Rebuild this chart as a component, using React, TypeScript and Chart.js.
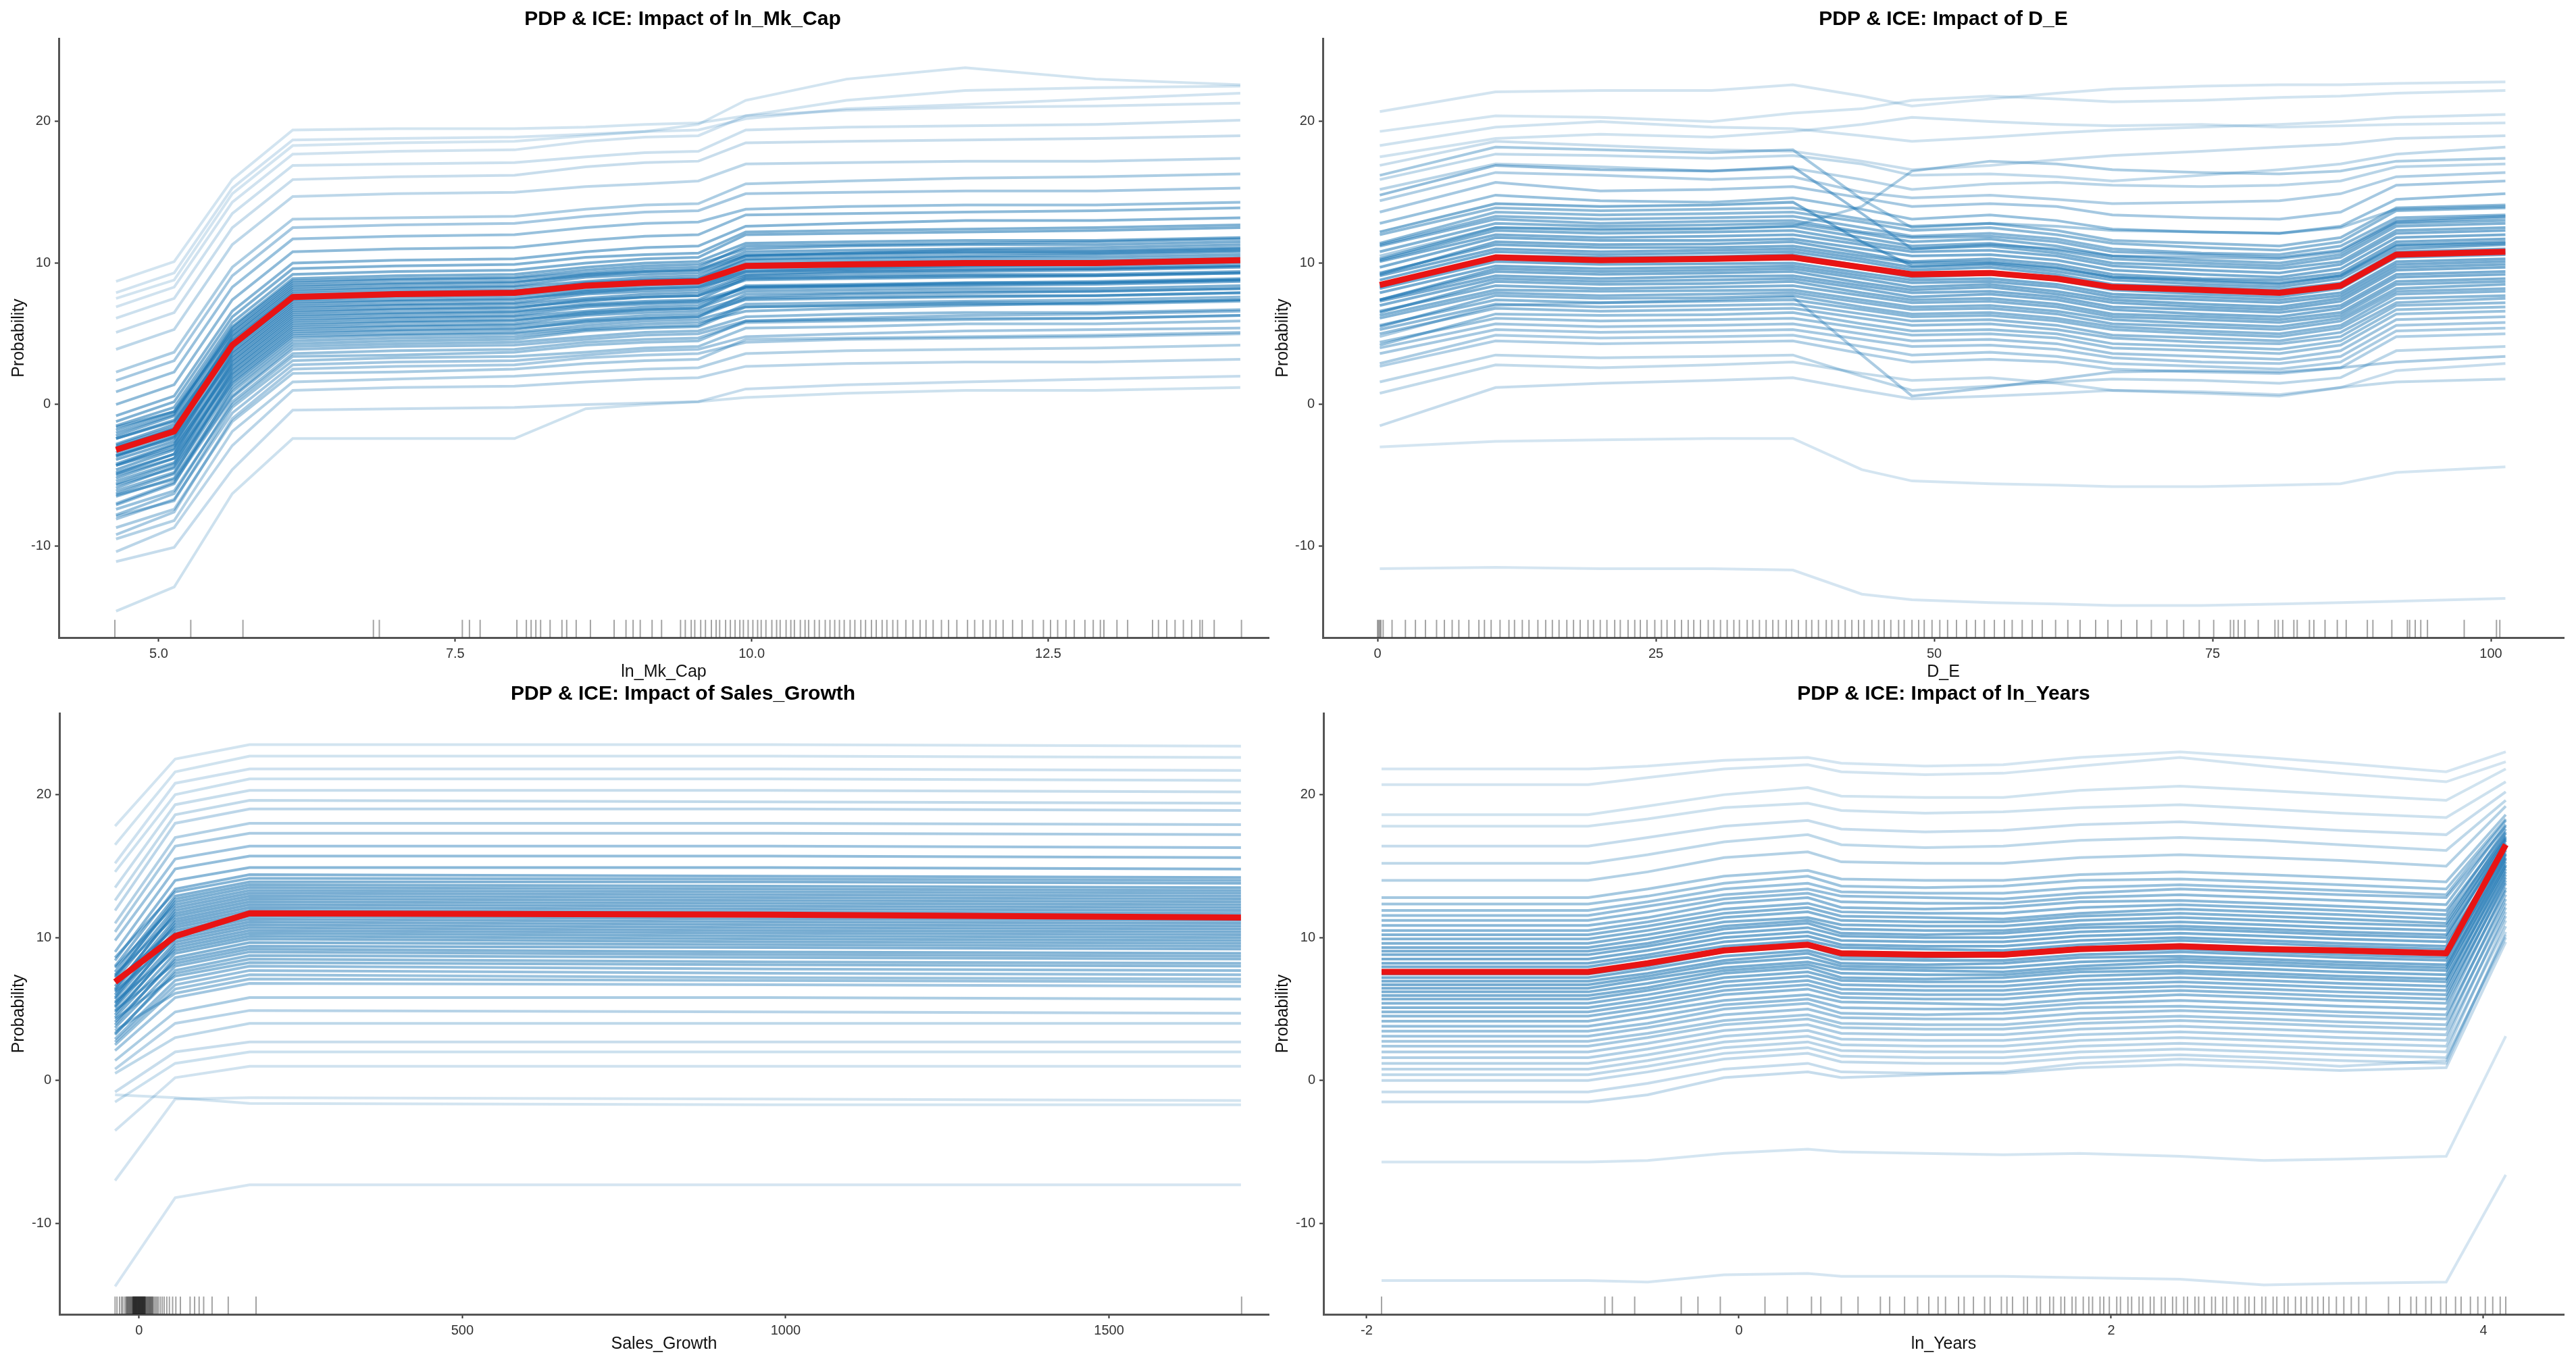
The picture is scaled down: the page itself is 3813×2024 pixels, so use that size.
import React, { useEffect, useRef } from "react";
import { Chart, registerables } from "chart.js";

Chart.register(...registerables);

const FONT = "'Liberation Sans', Arial, Helvetica, sans-serif";
const PDP_COLOR = "rgb(232, 20, 20)";
const RUG_COLOR = "rgba(0, 0, 0, 0.36)";

const Y_TICKS = [-10, 0, 10, 20];
const Y_TICK_LABELS = ["-10", "0", "10", "20"];
const Y_TITLE = "Probability";

// ---------------- Panel 1: ln_Mk_Cap ----------------
const MKCAP_X = [4.64, 5.13, 5.62, 6.13, 7.0, 8.0, 8.6, 9.1, 9.55, 9.95, 10.8, 11.8, 12.9, 14.12];
const MKCAP_PDP = [-3.2, -1.9, 4.2, 7.6, 7.8, 7.9, 8.4, 8.6, 8.7, 9.8, 9.9, 10.0, 10.0, 10.2];
const MKCAP_ICE = [
  [-14.6, -12.9, -6.3, -2.4, -2.4, -2.4, -0.3, 0.0, 0.2, 0.5, 0.8, 1.0, 1.0, 1.2],
  [-11.1, -10.1, -4.6, -0.4, -0.3, -0.2, 0.0, 0.1, 0.2, 1.1, 1.4, 1.6, 1.8, 2.0],
  [-10.4, -8.7, -2.9, 1.0, 1.2, 1.3, 1.6, 1.8, 1.9, 2.7, 2.9, 3.0, 3.0, 3.2],
  [-9.5, -8.2, -1.9, 1.6, 1.8, 2.0, 2.3, 2.5, 2.6, 3.6, 3.8, 3.9, 4.0, 4.2],
  [-8.7, -7.4, -1.2, 2.2, 2.3, 2.5, 2.9, 3.1, 3.2, 4.6, 4.7, 4.8, 4.9, 5.1],
  [-8.1, -6.7, -0.6, 2.8, 3.0, 3.1, 3.5, 3.8, 3.9, 4.8, 5.0, 5.2, 5.3, 5.4],
  [-7.4, -6.1, 0.0, 3.4, 3.5, 3.7, 4.2, 4.4, 4.5, 5.9, 6.0, 6.1, 6.1, 6.3],
  [-7.0, -5.5, 0.5, 3.9, 4.1, 4.2, 4.6, 4.9, 5.0, 5.9, 6.1, 6.3, 6.4, 6.6],
  [-6.5, -5.2, 0.9, 4.3, 4.5, 4.6, 5.2, 5.4, 5.5, 6.9, 7.0, 7.1, 7.1, 7.3],
  [-6.1, -4.8, 1.3, 4.7, 4.9, 5.0, 5.4, 5.7, 5.8, 6.6, 6.8, 7.0, 7.2, 7.4],
  [-5.9, -4.4, 1.6, 5.0, 5.2, 5.3, 5.9, 6.1, 6.2, 7.5, 7.6, 7.7, 7.7, 7.9],
  [-5.4, -4.1, 1.9, 5.3, 5.5, 5.6, 6.0, 6.3, 6.4, 7.4, 7.5, 7.6, 7.7, 7.9],
  [-5.2, -3.8, 2.2, 5.6, 5.8, 5.9, 6.5, 6.7, 6.8, 8.0, 8.1, 8.2, 8.2, 8.4],
  [-4.8, -3.5, 2.5, 5.9, 6.1, 6.2, 6.6, 6.9, 7.0, 8.3, 8.4, 8.6, 8.6, 8.8],
  [-4.6, -3.2, 2.8, 6.2, 6.4, 6.5, 7.0, 7.2, 7.3, 8.3, 8.4, 8.5, 8.6, 8.8],
  [-4.3, -2.9, 3.1, 6.5, 6.7, 6.8, 7.4, 7.6, 7.7, 9.0, 9.1, 9.2, 9.2, 9.4],
  [-3.9, -2.6, 3.4, 6.8, 7.0, 7.1, 7.5, 7.8, 7.9, 9.1, 9.3, 9.4, 9.5, 9.7],
  [-3.7, -2.3, 3.7, 7.1, 7.3, 7.4, 8.0, 8.2, 8.3, 9.6, 9.7, 9.8, 9.8, 10.0],
  [-3.4, -2.0, 4.0, 7.4, 7.6, 7.7, 8.1, 8.4, 8.5, 9.4, 9.6, 9.8, 9.9, 10.1],
  [-3.1, -1.7, 4.3, 7.7, 7.9, 8.0, 8.6, 8.8, 8.9, 10.2, 10.3, 10.4, 10.4, 10.6],
  [-2.8, -1.4, 4.6, 8.0, 8.2, 8.3, 8.7, 9.0, 9.1, 10.5, 10.7, 10.9, 10.9, 11.1],
  [-2.4, -1.1, 4.9, 8.3, 8.5, 8.6, 9.2, 9.4, 9.5, 10.6, 10.7, 10.8, 10.8, 11.0],
  [-2.2, -0.8, 5.2, 8.6, 8.8, 8.9, 9.3, 9.6, 9.7, 11.2, 11.3, 11.4, 11.5, 11.7],
  [-1.8, -0.5, 5.5, 8.9, 9.1, 9.2, 9.7, 10.0, 10.1, 11.4, 11.5, 11.6, 11.6, 11.8],
  [-1.5, -0.2, 5.8, 9.2, 9.4, 9.5, 10.0, 10.3, 10.4, 12.0, 12.1, 12.2, 12.3, 12.5],
  [-0.8, 0.6, 6.6, 10.0, 10.2, 10.3, 10.8, 11.1, 11.2, 12.6, 12.8, 13.0, 13.0, 13.2],
  [0.0, 1.4, 7.4, 10.8, 11.0, 11.1, 11.6, 11.9, 12.0, 13.4, 13.5, 13.6, 13.7, 13.9],
  [0.9, 2.3, 8.3, 11.7, 11.9, 12.0, 12.5, 12.8, 12.9, 13.8, 14.0, 14.1, 14.1, 14.3],
  [1.7, 3.1, 9.1, 12.5, 12.7, 12.8, 13.3, 13.6, 13.7, 14.9, 15.0, 15.1, 15.1, 15.3],
  [2.3, 3.7, 9.7, 13.1, 13.2, 13.3, 13.8, 14.1, 14.2, 15.6, 15.8, 16.0, 16.1, 16.3],
  [3.9, 5.3, 11.3, 14.7, 14.9, 15.0, 15.4, 15.6, 15.8, 17.0, 17.1, 17.2, 17.2, 17.4],
  [5.1, 6.5, 12.5, 15.9, 16.1, 16.2, 16.8, 17.1, 17.2, 18.5, 18.6, 18.7, 18.8, 19.0],
  [6.1, 7.5, 13.5, 16.9, 17.0, 17.1, 17.5, 17.8, 17.9, 19.4, 19.6, 19.7, 19.8, 20.1],
  [6.9, 8.3, 14.3, 17.7, 17.9, 18.0, 18.6, 18.9, 19.0, 20.4, 20.8, 21.0, 21.1, 21.3],
  [7.9, 9.3, 15.3, 18.7, 18.8, 18.9, 19.1, 19.3, 19.4, 20.2, 20.9, 21.2, 21.6, 22.0],
  [8.7, 10.1, 15.9, 19.4, 19.5, 19.5, 19.6, 19.8, 19.9, 20.4, 21.5, 22.2, 22.4, 22.5],
  [7.5, 8.8, 14.9, 18.3, 18.5, 18.6, 19.0, 19.3, 19.8, 21.5, 23.0, 23.8, 23.0, 22.6],
  [-9.2, -7.6, -1.0, 2.5, 2.7, 2.8, 3.3, 3.5, 3.6, 4.4, 4.6, 4.7, 4.8, 5.0],
  [-7.9, -6.8, -0.2, 3.1, 3.3, 3.4, 3.7, 4.0, 4.1, 5.4, 5.5, 5.7, 5.7, 5.9],
  [-7.8, -6.3, 0.2, 3.6, 3.8, 3.9, 4.4, 4.6, 4.7, 5.8, 5.9, 6.0, 6.1, 6.3],
  [-6.4, -5.3, 0.6, 4.1, 4.3, 4.4, 4.8, 5.1, 5.2, 6.2, 6.4, 6.5, 6.5, 6.7],
  [-7.1, -5.6, 1.1, 4.5, 4.7, 4.8, 5.3, 5.5, 5.6, 7.1, 7.2, 7.3, 7.4, 7.6],
  [-5.7, -4.5, 1.5, 4.85, 5.0, 5.1, 5.6, 5.9, 6.0, 6.9, 7.0, 7.2, 7.2, 7.4],
  [-6.3, -4.9, 1.8, 5.15, 5.3, 5.4, 5.8, 6.1, 6.2, 7.8, 7.9, 8.0, 8.0, 8.2],
  [-5.0, -3.8, 2.1, 5.45, 5.6, 5.7, 6.3, 6.5, 6.6, 7.6, 7.8, 7.9, 8.0, 8.2],
  [-5.6, -4.2, 2.4, 5.75, 5.9, 6.0, 6.4, 6.7, 6.8, 8.4, 8.5, 8.6, 8.7, 8.9],
  [-4.3, -3.1, 2.7, 6.05, 6.2, 6.3, 6.9, 7.1, 7.2, 8.2, 8.3, 8.4, 8.5, 8.7],
  [-4.9, -3.5, 3.0, 6.35, 6.5, 6.6, 7.1, 7.3, 7.4, 8.9, 9.0, 9.1, 9.1, 9.3],
  [-3.6, -2.4, 3.3, 6.65, 6.8, 6.9, 7.3, 7.6, 7.7, 8.8, 8.9, 9.0, 9.1, 9.3],
  [-4.2, -2.8, 3.6, 6.95, 7.1, 7.2, 7.8, 8.0, 8.1, 9.4, 9.5, 9.6, 9.6, 9.8],
  [-3.0, -1.8, 3.9, 7.25, 7.4, 7.5, 7.9, 8.2, 8.3, 9.2, 9.4, 9.5, 9.6, 9.8],
  [-3.6, -2.2, 4.2, 7.55, 7.7, 7.8, 8.4, 8.6, 8.7, 10.0, 10.1, 10.2, 10.2, 10.4],
  [-2.4, -1.2, 4.5, 7.85, 8.0, 8.1, 8.5, 8.8, 8.9, 10.3, 10.4, 10.5, 10.6, 10.8],
  [-2.9, -1.6, 4.8, 8.15, 8.3, 8.4, 9.0, 9.2, 9.3, 10.5, 10.6, 10.7, 10.7, 10.9],
  [-1.6, -0.5, 5.1, 8.45, 8.6, 8.7, 9.1, 9.4, 9.5, 10.8, 10.9, 11.0, 11.1, 11.3],
  [-2.0, -0.7, 5.4, 8.75, 8.9, 9.0, 9.5, 9.8, 9.9, 11.0, 11.2, 11.3, 11.3, 11.5],
  [-1.2, 0.2, 6.2, 9.6, 9.8, 9.9, 10.4, 10.6, 10.7, 12.2, 12.3, 12.4, 12.5, 12.7],
];
const MKCAP_RUG = [
  4.63, 5.27, 5.71, 6.81, 6.86, 7.56, 7.62, 7.71, 8.02, 8.1, 8.14, 8.18, 8.22, 8.3, 8.4, 8.44,
  8.52, 8.64, 8.84, 8.94, 9.0, 9.06, 9.16, 9.24, 9.4, 9.44, 9.49, 9.52, 9.57, 9.61, 9.66, 9.7,
  9.73, 9.78, 9.82, 9.86, 9.9, 9.93, 9.97, 10.01, 10.05, 10.08, 10.12, 10.17, 10.21, 10.24,
  10.29, 10.33, 10.36, 10.41, 10.45, 10.48, 10.53, 10.57, 10.62, 10.66, 10.7, 10.74, 10.78,
  10.83, 10.87, 10.92, 10.96, 11.01, 11.05, 11.1, 11.14, 11.19, 11.23, 11.3, 11.36, 11.42,
  11.47, 11.53, 11.6, 11.66, 11.73, 11.82, 11.88, 11.95, 12.01, 12.06, 12.12, 12.2, 12.28,
  12.37, 12.46, 12.52, 12.58, 12.65, 12.72, 12.81, 12.88, 12.94, 12.97, 13.08, 13.17, 13.38,
  13.43, 13.5, 13.57, 13.64, 13.71, 13.78, 13.8, 13.9, 14.13,
];
const MKCAP_TICKS = [5, 7.5, 10, 12.5];
const MKCAP_TICK_LABELS = ["5.0", "7.5", "10.0", "12.5"];

// ---------------- Panel 2: D_E ----------------
const DE_X = [0.2, 10.6, 20, 30, 37.3, 43.5, 48, 55, 61, 66, 74, 81, 86.5, 91.5, 101.3];
const DE_PDP = [8.45, 10.4, 10.2, 10.3, 10.4, 9.7, 9.2, 9.3, 8.9, 8.3, 8.1, 7.9, 8.4, 10.6, 10.8];
const DE_ICE = [
  [20.7, 22.1, 22.2, 22.2, 22.6, 21.8, 21.1, 21.6, 22.0, 22.3, 22.5, 22.6, 22.6, 22.7, 22.8],
  [19.3, 20.4, 20.3, 20.0, 20.6, 20.9, 21.5, 21.8, 21.6, 21.4, 21.5, 21.7, 21.8, 22.0, 22.2],
  [18.3, 19.6, 20.0, 19.6, 19.5, 19.0, 18.6, 18.9, 19.2, 19.4, 19.6, 19.8, 20.0, 20.3, 20.5],
  [17.5, 18.8, 19.1, 18.9, 19.3, 19.8, 20.3, 20.0, 19.8, 19.7, 19.8, 19.6, 19.7, 19.8, 19.9],
  [16.9, 18.6, 18.3, 18.0, 17.9, 17.2, 16.6, 16.9, 17.3, 17.6, 17.9, 18.2, 18.4, 18.8, 19.0],
  [15.9, 17.7, 17.6, 17.4, 17.6, 17.0, 16.2, 16.3, 16.1, 15.8, 16.2, 16.6, 17.0, 17.7, 18.2],
  [15.2, 17.0, 16.8, 16.5, 16.7, 15.9, 15.2, 15.6, 15.7, 15.5, 15.4, 15.5, 15.8, 16.8, 17.0],
  [14.4, 16.4, 16.2, 15.9, 16.1, 15.0, 14.6, 14.8, 14.5, 14.2, 14.3, 14.4, 14.9, 16.1, 16.4],
  [13.6, 15.7, 15.1, 15.2, 15.4, 14.6, 14.0, 14.2, 14.0, 13.4, 13.2, 13.1, 13.6, 15.5, 15.8],
  [12.8, 14.8, 14.4, 14.3, 14.6, 13.8, 13.1, 13.4, 13.0, 12.4, 12.2, 12.1, 12.6, 14.5, 14.9],
  [16.2, 18.2, 18.0, 17.8, 18.0, 14.5, 12.5, 12.8, 12.6, 12.3, 12.2, 12.1, 12.5, 13.8, 14.0],
  [14.8, 16.9, 16.6, 16.5, 16.8, 13.5, 11.0, 11.3, 11.0, 10.5, 10.4, 10.3, 10.8, 12.9, 13.2],
  [10.5, 12.5, 12.3, 12.4, 12.6, 14.0, 16.5, 17.2, 17.0, 16.6, 16.4, 16.3, 16.5, 17.2, 17.4],
  [12.0, 13.9, 13.7, 13.8, 13.9, 13.1, 12.6, 12.8, 12.3, 11.6, 11.4, 11.2, 11.8, 13.9, 14.1],
  [11.3, 13.3, 13.1, 13.2, 13.3, 12.5, 11.9, 12.1, 11.7, 11.0, 10.7, 10.6, 11.2, 13.2, 13.4],
  [10.8, 12.8, 12.6, 12.7, 12.8, 12.1, 11.5, 11.7, 11.2, 10.5, 10.2, 10.0, 10.6, 12.8, 13.0],
  [10.2, 12.3, 12.1, 12.2, 12.3, 11.5, 11.0, 11.2, 10.7, 10.0, 9.8, 9.6, 10.1, 12.3, 12.5],
  [9.7, 11.8, 11.6, 11.6, 11.7, 11.0, 10.5, 10.6, 10.2, 9.5, 9.2, 9.0, 9.6, 11.8, 12.0],
  [9.3, 11.3, 11.1, 11.1, 11.2, 10.5, 10.0, 10.1, 9.7, 9.0, 8.7, 8.5, 9.1, 11.3, 11.5],
  [8.8, 10.8, 10.6, 10.7, 10.8, 10.1, 9.5, 9.7, 9.2, 8.5, 8.3, 8.1, 8.6, 10.8, 11.0],
  [8.4, 10.3, 10.1, 10.2, 10.3, 9.6, 9.0, 9.2, 8.8, 8.1, 7.8, 7.6, 8.2, 10.4, 10.6],
  [7.9, 9.8, 9.6, 9.7, 9.8, 9.1, 8.6, 8.7, 8.3, 7.6, 7.4, 7.2, 7.7, 9.9, 10.1],
  [7.4, 9.4, 9.2, 9.3, 9.4, 8.6, 8.1, 8.3, 7.8, 7.2, 6.9, 6.7, 7.3, 9.5, 9.7],
  [7.0, 8.9, 8.7, 8.8, 8.9, 8.2, 7.6, 7.8, 7.4, 6.7, 6.4, 6.2, 6.8, 9.0, 9.2],
  [6.6, 8.4, 8.2, 8.3, 8.4, 7.7, 7.2, 7.3, 6.9, 6.2, 6.0, 5.8, 6.3, 8.5, 8.7],
  [6.1, 7.9, 7.7, 7.8, 7.9, 7.2, 6.7, 6.8, 6.4, 5.7, 5.5, 5.3, 5.9, 8.0, 8.2],
  [5.6, 7.4, 7.2, 7.3, 7.4, 6.7, 6.2, 6.3, 5.9, 5.3, 5.0, 4.8, 5.4, 7.5, 7.7],
  [5.0, 6.8, 6.6, 6.7, 6.8, 6.1, 5.6, 5.7, 5.3, 4.7, 4.4, 4.3, 4.8, 7.0, 7.2],
  [4.4, 6.1, 5.9, 6.0, 6.1, 5.4, 4.9, 5.0, 4.7, 4.0, 3.8, 3.6, 4.2, 6.4, 6.6],
  [3.6, 5.3, 5.1, 5.2, 5.3, 4.6, 4.1, 4.2, 3.9, 3.3, 3.0, 2.9, 3.4, 5.6, 5.8],
  [2.7, 4.5, 4.3, 4.4, 4.5, 3.6, 3.0, 3.2, 3.0, 2.5, 2.3, 2.2, 2.6, 4.8, 5.0],
  [1.6, 3.5, 3.3, 3.4, 3.5, 2.0, 1.0, 1.3, 1.6, 1.8, 1.7, 1.5, 1.9, 3.8, 4.1],
  [4.8, 7.0, 7.2, 7.4, 7.6, 3.5, 0.6, 1.2, 1.8, 2.3, 2.4, 2.3, 2.6, 3.0, 3.4],
  [0.8, 2.8, 2.6, 2.8, 3.0, 2.2, 1.7, 1.9, 1.5, 1.0, 0.8, 0.6, 1.2, 1.6, 1.8],
  [-1.5, 1.2, 1.5, 1.7, 1.9, 1.0, 0.4, 0.6, 0.8, 1.0, 0.9, 0.7, 1.2, 2.4, 2.9],
  [-3.0, -2.6, -2.5, -2.4, -2.4, -4.6, -5.4, -5.6, -5.7, -5.8, -5.8, -5.7, -5.6, -4.8, -4.4],
  [-11.6, -11.5, -11.6, -11.6, -11.7, -13.4, -13.8, -14.0, -14.1, -14.2, -14.2, -14.1, -14.0, -13.9, -13.7],
  [11.4, 13.6, 13.4, 13.5, 13.6, 12.9, 12.3, 12.5, 12.0, 11.4, 11.1, 10.9, 11.5, 13.7, 13.9],
  [11.2, 13.1, 12.8, 12.95, 13.0, 12.2, 11.8, 11.9, 11.5, 10.8, 10.6, 10.4, 10.9, 13.0, 13.3],
  [10.3, 12.5, 12.4, 12.45, 12.6, 11.8, 11.2, 11.4, 10.9, 10.3, 10.0, 9.8, 10.4, 12.6, 12.8],
  [10.1, 12.0, 11.8, 11.9, 12.0, 11.3, 10.8, 10.9, 10.5, 9.8, 9.5, 9.3, 9.9, 12.1, 12.3],
  [9.2, 11.5, 11.3, 11.35, 11.5, 10.7, 10.1, 10.3, 9.9, 9.2, 8.9, 8.8, 9.3, 11.5, 11.7],
  [9.1, 11.0, 10.8, 10.9, 11.0, 10.3, 9.7, 9.9, 9.4, 8.8, 8.5, 8.3, 8.9, 11.0, 11.3],
  [8.3, 10.5, 10.4, 10.45, 10.6, 9.8, 9.3, 9.4, 9.0, 8.3, 8.0, 7.8, 8.4, 10.6, 10.8],
  [8.2, 10.1, 9.9, 9.95, 10.0, 9.3, 8.8, 8.9, 8.5, 7.8, 7.6, 7.4, 7.9, 10.1, 10.3],
  [7.4, 9.6, 9.4, 9.5, 9.6, 8.9, 8.3, 8.5, 8.0, 7.4, 7.1, 6.9, 7.5, 9.7, 9.9],
  [7.3, 9.1, 8.9, 9.05, 9.1, 8.4, 7.9, 8.0, 7.6, 6.9, 6.7, 6.5, 7.0, 9.2, 9.4],
  [6.5, 8.7, 8.5, 8.55, 8.7, 7.9, 7.4, 7.5, 7.1, 6.4, 6.2, 6.0, 6.5, 8.7, 8.9],
  [6.3, 8.1, 8.0, 8.05, 8.1, 7.4, 6.9, 7.0, 6.6, 6.0, 5.7, 5.5, 6.1, 8.2, 8.5],
  [5.5, 7.7, 7.5, 7.55, 7.7, 6.9, 6.4, 6.5, 6.1, 5.5, 5.2, 5.0, 5.6, 7.8, 8.0],
  [5.3, 7.1, 6.9, 7.0, 7.1, 6.4, 5.9, 6.0, 5.6, 4.9, 4.7, 4.5, 5.1, 7.2, 7.5],
  [4.2, 6.4, 6.3, 6.35, 6.5, 5.7, 5.2, 5.3, 5.0, 4.3, 4.1, 3.9, 4.5, 6.7, 6.9],
  [4.0, 5.7, 5.5, 5.6, 5.7, 5.0, 4.5, 4.6, 4.3, 3.6, 3.4, 3.2, 3.8, 6.0, 6.2],
  [2.9, 4.9, 4.7, 4.8, 4.9, 4.1, 3.5, 3.7, 3.4, 2.9, 2.7, 2.5, 3.0, 5.2, 5.4],
  [12.2, 14.2, 14.0, 14.1, 14.3, 11.5, 9.8, 10.0, 9.6, 9.0, 8.8, 8.6, 9.1, 11.2, 11.4],
];
const DE_RUG = [
  0, 0.1, 0.2, 0.3, 0.5, 1.3, 2.5, 3.4, 4.3, 5.3, 6.0, 6.7, 7.3, 8.2, 9.1, 9.6, 10.2, 11.0, 11.8,
  12.3, 13.0, 13.6, 14.4, 15.1, 15.7, 16.3, 17.0, 17.6, 18.2, 18.9, 19.4, 20.0, 20.6, 21.3, 21.8,
  22.5, 23.1, 23.6, 24.2, 24.9, 25.5, 26.0, 26.7, 27.3, 27.9, 28.4, 29.0, 29.7, 30.2, 30.8, 31.4,
  32.0, 32.5, 33.2, 33.7, 34.3, 34.9, 35.5, 36.0, 36.7, 37.2, 37.8, 38.5, 39.0, 39.6, 40.3, 40.8,
  41.4, 42.0, 42.6, 43.2, 43.7, 44.4, 45.0, 45.5, 46.1, 46.8, 47.3, 48.0, 48.6, 49.1, 49.8, 50.5,
  51.2, 52.0, 52.9, 53.7, 54.5, 55.4, 56.3, 57.0, 57.9, 58.8, 59.7, 60.9, 62.0, 63.1, 64.5, 65.6,
  66.8, 68.2, 69.5, 70.9, 72.4, 73.8, 75.1, 76.6, 76.9, 77.3, 77.9, 79.1, 80.6, 80.9, 81.3, 82.3,
  82.6, 83.7, 84.1, 85.1, 86.2, 87.0, 88.9, 89.4, 91.1, 92.5, 92.7, 93.2, 93.7, 94.3, 97.6, 100.5,
  100.8,
];
const DE_TICKS = [0, 25, 50, 75, 100];
const DE_TICK_LABELS = ["0", "25", "50", "75", "100"];

// ---------------- Panel 3: Sales_Growth ----------------
const SG_X = [-37, 56, 171, 975, 1704];
const SG_PDP = [6.9, 10.1, 11.7, 11.6, 11.4];
const SG_ICE = [
  [17.8, 22.5, 23.5, 23.5, 23.4],
  [16.5, 21.6, 22.7, 22.7, 22.6],
  [15.2, 20.8, 21.8, 21.8, 21.7],
  [14.6, 20.0, 21.1, 21.1, 21.0],
  [13.5, 19.3, 20.3, 20.3, 20.2],
  [12.6, 18.6, 19.6, 19.5, 19.4],
  [11.9, 18.0, 19.0, 19.0, 18.9],
  [11.0, 17.0, 18.0, 18.0, 17.9],
  [10.4, 16.4, 17.3, 17.3, 17.2],
  [9.8, 15.5, 16.4, 16.4, 16.3],
  [9.0, 14.8, 15.7, 15.7, 15.6],
  [8.4, 14.0, 14.9, 14.9, 14.8],
  [8.0, 13.4, 14.4, 14.3, 14.2],
  [7.6, 12.9, 13.9, 13.9, 13.8],
  [7.3, 12.5, 13.5, 13.4, 13.3],
  [7.0, 12.1, 13.1, 13.0, 12.9],
  [6.6, 11.7, 12.7, 12.6, 12.5],
  [6.3, 11.3, 12.3, 12.2, 12.1],
  [6.0, 10.9, 11.9, 11.8, 11.7],
  [5.7, 10.5, 11.5, 11.3, 11.2],
  [5.4, 10.1, 11.1, 10.9, 10.8],
  [5.1, 9.7, 10.7, 10.5, 10.4],
  [4.8, 9.3, 10.3, 10.1, 10.0],
  [4.4, 8.9, 9.9, 9.7, 9.6],
  [4.1, 8.4, 9.4, 9.3, 9.2],
  [3.7, 8.0, 9.0, 8.8, 8.7],
  [3.3, 7.5, 8.5, 8.3, 8.2],
  [2.9, 7.0, 8.0, 7.8, 7.7],
  [2.5, 6.4, 7.4, 7.2, 7.1],
  [2.1, 5.8, 6.8, 6.7, 6.6],
  [1.4, 4.8, 5.8, 5.8, 5.7],
  [0.8, 4.0, 4.9, 4.8, 4.7],
  [0.5, 3.0, 4.0, 4.0, 4.0],
  [-0.8, 2.0, 2.7, 2.7, 2.7],
  [-1.5, 1.2, 2.0, 2.0, 2.0],
  [-3.5, 0.2, 1.0, 1.0, 1.0],
  [-1.0, -1.2, -1.6, -1.7, -1.7],
  [-7.0, -1.3, -1.2, -1.3, -1.4],
  [-14.4, -8.2, -7.3, -7.3, -7.3],
  [8.6, 13.2, 14.15, 14.1, 14.0],
  [7.2, 12.7, 13.7, 13.6, 13.5],
  [7.9, 12.3, 13.3, 13.2, 13.1],
  [6.4, 11.9, 12.9, 12.8, 12.7],
  [7.4, 11.5, 12.5, 12.4, 12.3],
  [5.8, 11.1, 12.1, 12.0, 11.9],
  [6.9, 10.7, 11.7, 11.5, 11.4],
  [5.2, 10.3, 11.3, 11.1, 11.0],
  [6.2, 9.9, 10.9, 10.7, 10.6],
  [4.6, 9.5, 10.5, 10.3, 10.2],
  [5.5, 9.1, 10.1, 9.9, 9.8],
  [3.9, 8.6, 9.65, 9.5, 9.4],
  [4.9, 8.2, 9.2, 9.0, 8.9],
  [3.2, 7.7, 8.75, 8.6, 8.5],
  [4.3, 7.3, 8.25, 8.1, 8.0],
  [2.7, 6.7, 7.7, 7.5, 7.4],
  [3.5, 6.1, 7.1, 7.0, 6.9],
];
const SG_RUG = [
  -37, -34, -30, -27, -25, -22, -20, -19, -18, -17, -16, -15, -14, -13, -12, -11, -10, -9.5, -9,
  -8.5, -8, -7.5, -7, -6.5, -6, -5.5, -5, -4.5, -4, -3.5, -3, -2.5, -2, -1.5, -1, -0.5, 0, 0.5, 1,
  1.5, 2, 2.5, 3, 3.5, 4, 4.5, 5, 5.5, 6, 6.5, 7, 7.5, 8, 8.5, 9, 9.5, 10, 11, 12, 13, 14, 15, 16,
  17, 18, 19, 20, 21, 22, 24, 26, 28, 30, 33, 36, 39, 43, 47, 52, 57, 64, 79, 86, 93, 100, 113,
  138, 181, 1705,
];
const SG_TICKS = [0, 500, 1000, 1500];
const SG_TICK_LABELS = ["0", "500", "1000", "1500"];

// ---------------- Panel 4: ln_Years ----------------
const YRS_X = [-1.92, -0.81, -0.49, -0.08, 0.37, 0.55, 1.0, 1.42, 1.83, 2.37, 2.82, 3.23, 3.8, 4.12];
const YRS_PDP = [7.6, 7.6, 8.2, 9.1, 9.5, 8.9, 8.8, 8.8, 9.2, 9.4, 9.2, 9.1, 8.9, 16.5];
const YRS_ICE = [
  [21.8, 21.8, 22.0, 22.4, 22.6, 22.2, 22.0, 22.1, 22.6, 23.0, 22.6, 22.2, 21.6, 23.0],
  [20.7, 20.7, 21.2, 21.8, 22.1, 21.6, 21.4, 21.5, 22.0, 22.6, 22.0, 21.5, 20.9, 22.3],
  [18.6, 18.6, 19.2, 20.0, 20.5, 19.9, 19.8, 19.8, 20.3, 20.6, 20.3, 20.0, 19.6, 21.8],
  [17.8, 17.8, 18.3, 19.1, 19.4, 18.9, 18.7, 18.8, 19.1, 19.3, 19.0, 18.7, 18.4, 20.9],
  [16.4, 16.4, 17.0, 17.8, 18.2, 17.6, 17.4, 17.5, 17.9, 18.1, 17.8, 17.5, 17.2, 20.2],
  [15.2, 15.2, 15.8, 16.7, 17.2, 16.5, 16.3, 16.4, 16.8, 17.0, 16.8, 16.5, 16.1, 19.6],
  [14.0, 14.0, 14.6, 15.6, 16.0, 15.3, 15.2, 15.2, 15.6, 15.8, 15.6, 15.4, 15.0, 19.2],
  [12.8, 12.8, 13.4, 14.3, 14.7, 14.1, 14.0, 14.0, 14.4, 14.6, 14.4, 14.2, 13.9, 18.6],
  [11.9, 11.9, 12.5, 13.4, 13.8, 13.2, 13.1, 13.1, 13.5, 13.7, 13.5, 13.3, 13.0, 18.2],
  [11.2, 11.2, 11.8, 12.7, 13.1, 12.5, 12.4, 12.4, 12.8, 13.0, 12.8, 12.6, 12.3, 17.9],
  [10.5, 10.5, 11.1, 12.0, 12.4, 11.8, 11.7, 11.7, 12.1, 12.3, 12.1, 11.9, 11.6, 17.6],
  [9.9, 9.9, 10.5, 11.4, 11.8, 11.2, 11.1, 11.1, 11.5, 11.7, 11.5, 11.3, 11.0, 17.3],
  [9.3, 9.3, 9.9, 10.8, 11.2, 10.6, 10.5, 10.5, 10.9, 11.1, 10.9, 10.7, 10.5, 17.0],
  [8.8, 8.8, 9.4, 10.3, 10.7, 10.1, 10.0, 10.0, 10.4, 10.6, 10.4, 10.2, 10.0, 16.8],
  [8.2, 8.2, 8.8, 9.7, 10.1, 9.5, 9.4, 9.4, 9.8, 10.0, 9.8, 9.6, 9.4, 16.4],
  [7.7, 7.7, 8.3, 9.2, 9.6, 9.0, 8.9, 8.9, 9.3, 9.5, 9.3, 9.1, 8.9, 16.1],
  [7.2, 7.2, 7.8, 8.7, 9.1, 8.5, 8.4, 8.4, 8.8, 9.0, 8.8, 8.6, 8.4, 15.8],
  [6.7, 6.7, 7.3, 8.2, 8.6, 8.0, 7.9, 7.9, 8.3, 8.5, 8.3, 8.1, 7.9, 15.5],
  [6.2, 6.2, 6.8, 7.7, 8.1, 7.5, 7.4, 7.4, 7.8, 8.0, 7.8, 7.6, 7.4, 15.1],
  [5.7, 5.7, 6.3, 7.2, 7.6, 7.0, 6.9, 6.9, 7.3, 7.5, 7.3, 7.1, 6.9, 14.8],
  [5.1, 5.1, 5.7, 6.6, 7.0, 6.4, 6.3, 6.3, 6.7, 6.9, 6.7, 6.5, 6.3, 14.4],
  [4.5, 4.5, 5.1, 6.0, 6.4, 5.8, 5.7, 5.7, 6.1, 6.3, 6.1, 5.9, 5.7, 14.0],
  [3.8, 3.8, 4.4, 5.3, 5.7, 5.1, 5.0, 5.0, 5.4, 5.6, 5.4, 5.2, 5.0, 13.5],
  [3.1, 3.1, 3.7, 4.6, 5.0, 4.4, 4.3, 4.3, 4.7, 4.9, 4.7, 4.5, 4.3, 13.0],
  [2.4, 2.4, 3.0, 3.9, 4.3, 3.7, 3.6, 3.6, 4.0, 4.2, 4.0, 3.8, 3.6, 12.4],
  [1.6, 1.6, 2.2, 3.1, 3.5, 2.9, 2.8, 2.8, 3.2, 3.4, 3.2, 3.0, 2.8, 11.8],
  [0.8, 0.8, 1.4, 2.3, 2.7, 2.1, 2.0, 2.0, 2.4, 2.6, 2.4, 2.2, 2.0, 11.2],
  [0.0, 0.0, 0.6, 1.5, 1.9, 1.3, 1.2, 1.2, 1.6, 1.8, 1.6, 1.4, 1.2, 10.4],
  [-0.8, -0.8, -0.2, 0.8, 1.2, 0.6, 0.5, 0.5, 0.9, 1.1, 0.9, 0.7, 0.9, 9.7],
  [-1.5, -1.5, -1.0, 0.2, 0.6, 0.2, 0.4, 0.6, 1.2, 1.5, 1.3, 1.0, 1.4, 10.2],
  [-5.7, -5.7, -5.6, -5.1, -4.8, -5.0, -5.1, -5.2, -5.1, -5.3, -5.6, -5.5, -5.3, 3.1],
  [-14.0, -14.0, -14.1, -13.6, -13.5, -13.7, -13.7, -13.7, -13.8, -13.9, -14.3, -14.2, -14.1, -6.6],
  [12.35, 12.35, 12.9, 13.8, 14.3, 13.6, 13.5, 13.6, 14.0, 14.1, 13.9, 13.7, 13.4, 18.3],
  [11.55, 11.55, 12.2, 13.0, 13.4, 12.9, 12.8, 12.7, 13.1, 13.4, 13.2, 13.0, 12.8, 17.8],
  [10.85, 10.85, 11.4, 12.4, 12.8, 12.1, 12.0, 12.1, 12.5, 12.6, 12.4, 12.2, 11.9, 17.4],
  [10.2, 10.2, 10.8, 11.7, 12.1, 11.5, 11.4, 11.3, 11.7, 12.0, 11.8, 11.6, 11.3, 17.1],
  [9.6, 9.6, 10.2, 11.1, 11.4, 10.9, 10.8, 10.8, 11.2, 11.4, 11.2, 11.0, 10.8, 16.9],
  [9.05, 9.05, 9.6, 10.6, 11.0, 10.3, 10.2, 10.3, 10.7, 10.8, 10.6, 10.4, 10.2, 16.6],
  [8.5, 8.5, 9.1, 10.0, 10.4, 9.8, 9.7, 9.7, 10.1, 10.3, 10.1, 9.9, 9.7, 16.2],
  [7.95, 7.95, 8.6, 9.4, 9.8, 9.3, 9.2, 9.1, 9.5, 9.8, 9.6, 9.4, 9.2, 15.9],
  [7.45, 7.45, 8.0, 9.0, 9.4, 8.7, 8.6, 8.7, 9.1, 9.2, 9.0, 8.8, 8.6, 15.6],
  [6.95, 6.95, 7.5, 8.4, 8.9, 8.2, 8.1, 8.2, 8.6, 8.7, 8.5, 8.3, 8.1, 15.3],
  [6.45, 6.45, 7.1, 7.9, 8.3, 7.8, 7.7, 7.6, 8.0, 8.3, 8.1, 7.9, 7.7, 15.0],
  [5.95, 5.95, 6.5, 7.5, 7.9, 7.2, 7.1, 7.2, 7.6, 7.7, 7.5, 7.3, 7.1, 14.6],
  [5.4, 5.4, 6.0, 6.9, 7.3, 6.7, 6.6, 6.6, 7.0, 7.2, 7.0, 6.8, 6.6, 14.2],
  [4.8, 4.8, 5.4, 6.3, 6.7, 6.1, 6.0, 6.0, 6.4, 6.6, 6.4, 6.2, 6.0, 13.8],
  [4.15, 4.15, 4.8, 5.6, 6.0, 5.5, 5.4, 5.3, 5.7, 6.0, 5.8, 5.6, 5.4, 13.3],
  [3.45, 3.45, 4.0, 5.0, 5.4, 4.7, 4.6, 4.7, 5.1, 5.2, 5.0, 4.8, 4.6, 12.7],
  [2.75, 2.75, 3.3, 4.2, 4.6, 4.0, 3.9, 3.9, 4.3, 4.5, 4.3, 4.1, 3.9, 12.1],
  [2.0, 2.0, 2.6, 3.5, 3.9, 3.3, 3.2, 3.2, 3.6, 3.8, 3.6, 3.4, 3.2, 11.5],
  [1.2, 1.2, 1.8, 2.7, 3.1, 2.5, 2.4, 2.4, 2.8, 3.0, 2.8, 2.6, 2.4, 10.8],
  [0.4, 0.4, 1.0, 1.9, 2.3, 1.7, 1.6, 1.6, 2.0, 2.2, 2.0, 1.8, 1.6, 10.0],
];
const YRS_RUG = [
  -1.92, -0.72, -0.68, -0.56, -0.31, -0.22, -0.1, 0.14, 0.26, 0.39, 0.44, 0.55, 0.64, 0.76, 0.81,
  0.89, 0.96, 1.02, 1.07, 1.11, 1.18, 1.21, 1.26, 1.32, 1.35, 1.41, 1.44, 1.47, 1.53, 1.55, 1.6,
  1.62, 1.67, 1.69, 1.73, 1.75, 1.79, 1.81, 1.85, 1.88, 1.9, 1.94, 1.96, 1.99, 2.03, 2.05, 2.09,
  2.11, 2.15, 2.17, 2.21, 2.23, 2.27, 2.29, 2.33, 2.35, 2.39, 2.41, 2.45, 2.47, 2.5, 2.54, 2.56,
  2.6, 2.62, 2.66, 2.68, 2.72, 2.74, 2.77, 2.81, 2.83, 2.87, 2.89, 2.93, 2.95, 2.99, 3.02, 3.05,
  3.08, 3.11, 3.14, 3.17, 3.21, 3.25, 3.29, 3.33, 3.37, 3.49, 3.55, 3.61, 3.64, 3.69, 3.72, 3.77,
  3.8, 3.85, 3.88, 3.93, 3.97, 4.01, 4.05, 4.09, 4.12,
];
const YRS_TICKS = [-2, 0, 2, 4];
const YRS_TICK_LABELS = ["-2", "0", "2", "4"];

interface PanelSpec {
  title: string;
  xTitle: string;
  xs: number[];
  pdp: number[];
  ice: number[][];
  rug: number[];
  xTicks: number[];
  xTickLabels: string[];
  xMin: number;
  xMax: number;
  yMin: number;
  yMax: number;
  left: number;
  top: number;
  width: number;
  height: number;
  yAxisWidth: number;
  rightPad: number;
  titlePadTop: number;
  titlePadBottom: number;
  titleShift: number;
  xAxisHeight: number;
  xTitlePadBottom: number;
  yTitlePadTop: number;
}

const PANELS: PanelSpec[] = [
  {
    title: "PDP & ICE: Impact of ln_Mk_Cap",
    xTitle: "ln_Mk_Cap",
    xs: MKCAP_X, pdp: MKCAP_PDP, ice: MKCAP_ICE, rug: MKCAP_RUG,
    xTicks: MKCAP_TICKS, xTickLabels: MKCAP_TICK_LABELS,
    xMin: 4.157, xMax: 14.36, yMin: -16.47, yMax: 25.87,
    left: 0, top: 0, width: 1900, height: 1016,
    yAxisWidth: 87, rightPad: 22, titlePadTop: 14, titlePadBottom: 13, titleShift: 28,
    xAxisHeight: 72, xTitlePadBottom: 8, yTitlePadTop: 16,
  },
  {
    title: "PDP & ICE: Impact of D_E",
    xTitle: "D_E",
    xs: DE_X, pdp: DE_PDP, ice: DE_ICE, rug: DE_RUG,
    xTicks: DE_TICKS, xTickLabels: DE_TICK_LABELS,
    xMin: -4.92, xMax: 106.55, yMin: -16.47, yMax: 25.87,
    left: 1880, top: 0, width: 1933, height: 1016,
    yAxisWidth: 78, rightPad: 18, titlePadTop: 14, titlePadBottom: 13, titleShift: 0,
    xAxisHeight: 72, xTitlePadBottom: 8, yTitlePadTop: 7,
  },
  {
    title: "PDP & ICE: Impact of Sales_Growth",
    xTitle: "Sales_Growth",
    xs: SG_X, pdp: SG_PDP, ice: SG_ICE, rug: SG_RUG,
    xTicks: SG_TICKS, xTickLabels: SG_TICK_LABELS,
    xMin: -123, xMax: 1747, yMin: -16.36, yMax: 25.7,
    left: 0, top: 1000, width: 1900, height: 1024,
    yAxisWidth: 88, rightPad: 22, titlePadTop: 13, titlePadBottom: 13, titleShift: 28,
    xAxisHeight: 78, xTitlePadBottom: 21, yTitlePadTop: 16,
  },
  {
    title: "PDP & ICE: Impact of ln_Years",
    xTitle: "ln_Years",
    xs: YRS_X, pdp: YRS_PDP, ice: YRS_ICE, rug: YRS_RUG,
    xTicks: YRS_TICKS, xTickLabels: YRS_TICK_LABELS,
    xMin: -2.232, xMax: 4.432, yMin: -16.36, yMax: 25.7,
    left: 1880, top: 1000, width: 1933, height: 1024,
    yAxisWidth: 79, rightPad: 18, titlePadTop: 13, titlePadBottom: 13, titleShift: 0,
    xAxisHeight: 78, xTitlePadBottom: 21, yTitlePadTop: 7,
  },
];

// Style only: curves close to the average are drawn a little stronger so the
// crowded core reads as a dense band, like the many overlapping ICE curves.
function iceColor(vals: number[], pdp: number[]): string {
  let d = 0;
  for (let i = 0; i < vals.length; i++) d += Math.abs(vals[i] - pdp[i]);
  d /= vals.length;
  const a = 0.19 + 0.43 * Math.exp(-(d / 6) * (d / 6));
  return `rgba(31, 119, 180, ${a.toFixed(3)})`;
}

// Moves the (library-drawn) title horizontally by a fixed amount.
const titleShiftPlugin = {
  id: "titleShift",
  afterLayout(chart: any, _args: any, opts: any) {
    const t = chart.titleBlock;
    const dx = opts && opts.dx ? opts.dx : 0;
    if (t && dx) {
      t.left += dx;
      t.right += dx;
    }
  },
};

function Panel({ spec }: { spec: PanelSpec }) {
  const ref = useRef<HTMLCanvasElement | null>(null);

  useEffect(() => {
    const canvas = ref.current;
    if (!canvas) return;
    const rugY = spec.yMin + (spec.yMax - spec.yMin) * 0.015;
    const datasets: any[] = spec.ice.map((vals) => ({
      data: spec.xs.map((x, i) => ({ x, y: vals[i] })),
      borderColor: iceColor(vals, spec.pdp),
      borderWidth: 4,
      pointRadius: 0,
      pointHoverRadius: 0,
      tension: 0,
      fill: false,
      order: 3,
    }));
    datasets.push({
      data: spec.xs.map((x, i) => ({ x, y: spec.pdp[i] })),
      borderColor: PDP_COLOR,
      borderWidth: 9,
      borderJoinStyle: "round",
      pointRadius: 0,
      pointHoverRadius: 0,
      tension: 0,
      fill: false,
      order: 1,
    });
    datasets.push({
      data: spec.rug.map((x) => ({ x, y: rugY })),
      showLine: false,
      pointStyle: "line",
      pointRotation: 90,
      pointRadius: 13,
      pointHoverRadius: 13,
      pointBorderColor: RUG_COLOR,
      pointBackgroundColor: RUG_COLOR,
      pointBorderWidth: 2,
      order: 2,
    });

    const tickFont = { family: FONT, size: 20 };
    const axisTitleFont = { family: FONT, size: 25, lineHeight: 1 };

    const chart = new Chart(canvas, {
      type: "line",
      data: { datasets },
      plugins: [titleShiftPlugin],
      options: {
        animation: false,
        responsive: false,
        maintainAspectRatio: false,
        devicePixelRatio: 1,
        events: [],
        layout: { padding: { left: 0, right: spec.rightPad, top: 0, bottom: 0 } },
        plugins: {
          legend: { display: false },
          tooltip: { enabled: false },
          titleShift: { dx: spec.titleShift },
          title: {
            display: true,
            text: spec.title,
            fullSize: false,
            color: "#000",
            font: { family: FONT, size: 30, weight: "bold", lineHeight: 1 },
            padding: { top: spec.titlePadTop, bottom: spec.titlePadBottom },
          },
        },
        scales: {
          x: {
            type: "linear",
            min: spec.xMin,
            max: spec.xMax,
            afterBuildTicks: (scale: any) => {
              scale.ticks = spec.xTicks.map((v) => ({ value: v }));
            },
            afterFit: (scale: any) => {
              scale.height = spec.xAxisHeight;
            },
            ticks: {
              autoSkip: false,
              maxRotation: 0,
              padding: 6,
              color: "#333",
              font: tickFont,
              callback: (value: any) => {
                const idx = spec.xTicks.indexOf(Number(value));
                return idx >= 0 ? spec.xTickLabels[idx] : "";
              },
            },
            grid: {
              drawOnChartArea: false,
              drawTicks: true,
              tickLength: 6,
              tickWidth: 2,
              tickColor: "#333",
              color: "#333",
            },
            border: { display: true, color: "#555", width: 3 },
            title: {
              display: true,
              text: spec.xTitle,
              color: "#111",
              font: axisTitleFont,
              padding: { top: 0, bottom: spec.xTitlePadBottom },
            },
          },
          y: {
            type: "linear",
            min: spec.yMin,
            max: spec.yMax,
            afterBuildTicks: (scale: any) => {
              scale.ticks = Y_TICKS.map((v) => ({ value: v }));
            },
            afterFit: (scale: any) => {
              scale.width = spec.yAxisWidth;
            },
            ticks: {
              autoSkip: false,
              padding: 6,
              color: "#333",
              font: tickFont,
              callback: (value: any) => {
                const idx = Y_TICKS.indexOf(Number(value));
                return idx >= 0 ? Y_TICK_LABELS[idx] : "";
              },
            },
            grid: {
              drawOnChartArea: false,
              drawTicks: true,
              tickLength: 6,
              tickWidth: 2,
              tickColor: "#333",
              color: "#333",
            },
            border: { display: true, color: "#555", width: 3 },
            title: {
              display: true,
              text: Y_TITLE,
              color: "#111",
              font: axisTitleFont,
              padding: { top: spec.yTitlePadTop, bottom: 0 },
            },
          },
        },
      } as any,
    });

    return () => chart.destroy();
  }, [spec]);

  return (
    <canvas
      ref={ref}
      width={spec.width}
      height={spec.height}
      style={{
        position: "absolute",
        left: spec.left,
        top: spec.top,
        width: spec.width,
        height: spec.height,
      }}
    />
  );
}

export default function App() {
  return (
    <div
      style={{
        position: "absolute",
        left: 0,
        top: 0,
        width: 3813,
        height: 2024,
        background: "#fff",
        overflow: "hidden",
      }}
    >
      {PANELS.map((p, i) => (
        <Panel key={i} spec={p} />
      ))}
    </div>
  );
}
